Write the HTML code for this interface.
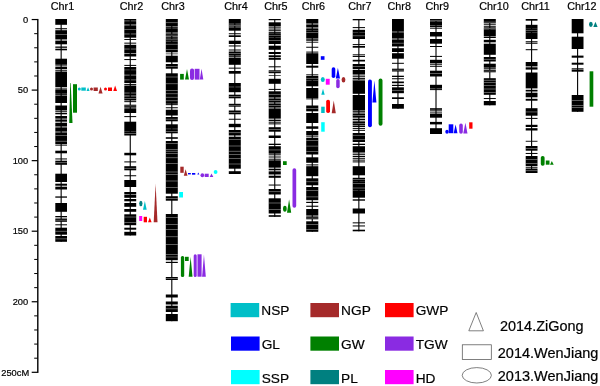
<!DOCTYPE html>
<html lang="en">
<head>
<meta charset="utf-8">
<title>QTL linkage map</title>
<style>
html,body{margin:0;padding:0;background:#fff;}
body{width:600px;height:386px;overflow:hidden;}
svg{display:block;}
text{font-family:"Liberation Sans",Arial,Helvetica,sans-serif;fill:#000;stroke:#000;stroke-width:0.2px;}
.t{font-size:10.8px;}
.a{font-size:9.3px;}
.l{font-size:13.7px;}
.r{font-size:14.3px;}
</style>
</head>
<body>
<svg width="600" height="386" viewBox="0 0 600 386">
<rect x="0" y="0" width="600" height="386" fill="#fff"/>
<g id="Chr1">
<text x="50.8" y="10.0" class="t">Chr1</text>
<rect x="60.60" y="19.00" width="1.10" height="222.80" fill="#000"/>
<rect x="55.30" y="19.00" width="11.70" height="5.80" fill="#000"/>
<rect x="55.30" y="28.20" width="11.70" height="1.10" fill="#000"/>
<rect x="55.30" y="30.20" width="11.70" height="8.80" fill="#000"/>
<rect x="55.30" y="34.30" width="11.70" height="0.60" fill="#fff" opacity="0.6"/>
<rect x="55.30" y="39.52" width="11.70" height="0.65" fill="#000"/>
<rect x="55.30" y="40.70" width="11.70" height="3.60" fill="#000"/>
<rect x="55.30" y="46.50" width="11.70" height="1.30" fill="#000"/>
<rect x="55.30" y="48.70" width="11.70" height="1.60" fill="#000"/>
<rect x="55.30" y="58.70" width="11.70" height="6.10" fill="#000"/>
<rect x="55.30" y="65.40" width="11.70" height="1.00" fill="#000"/>
<rect x="55.30" y="67.00" width="11.70" height="2.00" fill="#000"/>
<rect x="55.30" y="69.75" width="11.70" height="1.00" fill="#000"/>
<rect x="55.30" y="71.50" width="11.70" height="15.70" fill="#000"/>
<rect x="55.30" y="87.92" width="11.70" height="0.65" fill="#000"/>
<rect x="55.30" y="89.30" width="11.70" height="4.50" fill="#000"/>
<rect x="55.30" y="94.15" width="11.70" height="1.00" fill="#000"/>
<rect x="55.30" y="95.50" width="11.70" height="7.50" fill="#000"/>
<rect x="55.30" y="105.50" width="11.70" height="5.00" fill="#000"/>
<rect x="55.30" y="111.25" width="11.70" height="1.00" fill="#000"/>
<rect x="55.30" y="113.00" width="11.70" height="1.30" fill="#000"/>
<rect x="55.30" y="116.00" width="11.70" height="2.00" fill="#000"/>
<rect x="55.30" y="118.35" width="11.70" height="1.00" fill="#000"/>
<rect x="55.30" y="119.70" width="11.70" height="2.00" fill="#000"/>
<rect x="55.30" y="122.70" width="11.70" height="3.60" fill="#000"/>
<rect x="55.30" y="126.65" width="11.70" height="1.00" fill="#000"/>
<rect x="55.30" y="128.00" width="11.70" height="3.30" fill="#000"/>
<rect x="55.30" y="131.50" width="11.70" height="1.00" fill="#000"/>
<rect x="55.30" y="132.70" width="11.70" height="11.30" fill="#000"/>
<rect x="55.30" y="135.22" width="11.70" height="0.60" fill="#fff" opacity="0.6"/>
<rect x="55.30" y="140.88" width="11.70" height="0.60" fill="#fff" opacity="0.6"/>
<rect x="55.30" y="144.60" width="11.70" height="1.00" fill="#000"/>
<rect x="55.30" y="150.70" width="11.70" height="2.60" fill="#000"/>
<rect x="55.30" y="158.45" width="11.70" height="1.00" fill="#000"/>
<rect x="55.30" y="160.70" width="11.70" height="4.10" fill="#000"/>
<rect x="55.30" y="162.45" width="11.70" height="0.60" fill="#fff" opacity="0.6"/>
<rect x="55.30" y="173.70" width="11.70" height="8.30" fill="#000"/>
<rect x="55.30" y="183.70" width="11.70" height="2.00" fill="#000"/>
<rect x="55.30" y="186.70" width="11.70" height="2.80" fill="#000"/>
<rect x="55.30" y="196.40" width="11.70" height="1.30" fill="#000"/>
<rect x="55.30" y="203.00" width="11.70" height="8.80" fill="#000"/>
<rect x="55.30" y="216.00" width="11.70" height="1.30" fill="#000"/>
<rect x="55.30" y="218.50" width="11.70" height="3.30" fill="#000"/>
<rect x="55.30" y="219.85" width="11.70" height="0.60" fill="#fff" opacity="0.6"/>
<rect x="55.30" y="224.30" width="11.70" height="1.00" fill="#000"/>
<rect x="55.30" y="227.70" width="11.70" height="7.00" fill="#000"/>
<rect x="55.30" y="230.90" width="11.70" height="0.60" fill="#fff" opacity="0.6"/>
<rect x="55.30" y="236.00" width="11.70" height="5.80" fill="#000"/>
<rect x="55.30" y="238.60" width="11.70" height="0.60" fill="#fff" opacity="0.6"/>
</g>
<g id="Chr2">
<text x="119.8" y="10.0" class="t">Chr2</text>
<rect x="129.70" y="19.00" width="1.10" height="216.50" fill="#000"/>
<rect x="124.30" y="19.00" width="11.90" height="1.70" fill="#000"/>
<rect x="124.30" y="20.85" width="11.90" height="1.00" fill="#000"/>
<rect x="124.30" y="22.00" width="11.90" height="2.00" fill="#000"/>
<rect x="124.30" y="24.32" width="11.90" height="0.65" fill="#000"/>
<rect x="124.30" y="25.30" width="11.90" height="8.40" fill="#000"/>
<rect x="124.30" y="29.20" width="11.90" height="0.60" fill="#fff" opacity="0.6"/>
<rect x="124.30" y="33.75" width="11.90" height="1.00" fill="#000"/>
<rect x="124.30" y="34.80" width="11.90" height="2.90" fill="#000"/>
<rect x="124.30" y="38.95" width="11.90" height="1.00" fill="#000"/>
<rect x="124.30" y="42.65" width="11.90" height="1.00" fill="#000"/>
<rect x="124.30" y="44.80" width="11.90" height="3.40" fill="#000"/>
<rect x="124.30" y="48.25" width="11.90" height="1.00" fill="#000"/>
<rect x="124.30" y="49.30" width="11.90" height="3.90" fill="#000"/>
<rect x="124.30" y="53.70" width="11.90" height="2.80" fill="#000"/>
<rect x="124.30" y="59.05" width="11.90" height="1.00" fill="#000"/>
<rect x="124.30" y="64.90" width="11.90" height="1.00" fill="#000"/>
<rect x="124.30" y="67.00" width="11.90" height="2.80" fill="#000"/>
<rect x="124.30" y="69.90" width="11.90" height="1.00" fill="#000"/>
<rect x="124.30" y="71.00" width="11.90" height="3.80" fill="#000"/>
<rect x="124.30" y="75.30" width="11.90" height="4.40" fill="#000"/>
<rect x="124.30" y="79.85" width="11.90" height="1.00" fill="#000"/>
<rect x="124.30" y="81.00" width="11.90" height="2.00" fill="#000"/>
<rect x="124.30" y="83.90" width="11.90" height="1.00" fill="#000"/>
<rect x="124.30" y="85.50" width="11.90" height="6.70" fill="#000"/>
<rect x="124.30" y="92.25" width="11.90" height="1.00" fill="#000"/>
<rect x="124.30" y="93.30" width="11.90" height="2.20" fill="#000"/>
<rect x="124.30" y="95.60" width="11.90" height="1.00" fill="#000"/>
<rect x="124.30" y="96.70" width="11.90" height="3.80" fill="#000"/>
<rect x="124.30" y="98.30" width="11.90" height="0.60" fill="#fff" opacity="0.6"/>
<rect x="124.30" y="101.15" width="11.90" height="1.00" fill="#000"/>
<rect x="124.30" y="104.70" width="11.90" height="2.50" fill="#000"/>
<rect x="124.30" y="105.65" width="11.90" height="0.60" fill="#fff" opacity="0.6"/>
<rect x="124.30" y="107.42" width="11.90" height="0.65" fill="#000"/>
<rect x="124.30" y="108.30" width="11.90" height="4.70" fill="#000"/>
<rect x="124.30" y="116.10" width="11.90" height="1.00" fill="#000"/>
<rect x="124.30" y="121.70" width="11.90" height="9.60" fill="#000"/>
<rect x="124.30" y="131.30" width="11.90" height="4.20" fill="#000"/>
<rect x="124.30" y="133.10" width="11.90" height="0.60" fill="#fff" opacity="0.6"/>
<rect x="124.30" y="152.80" width="11.90" height="2.50" fill="#000"/>
<rect x="124.30" y="161.40" width="11.90" height="1.00" fill="#000"/>
<rect x="124.30" y="166.20" width="11.90" height="4.10" fill="#000"/>
<rect x="124.30" y="167.95" width="11.90" height="0.60" fill="#fff" opacity="0.6"/>
<rect x="124.30" y="175.25" width="11.90" height="1.00" fill="#000"/>
<rect x="124.30" y="180.00" width="11.90" height="7.00" fill="#000"/>
<rect x="124.30" y="192.00" width="11.90" height="2.00" fill="#000"/>
<rect x="124.30" y="194.50" width="11.90" height="3.30" fill="#000"/>
<rect x="124.30" y="199.00" width="11.90" height="2.30" fill="#000"/>
<rect x="124.30" y="203.00" width="11.90" height="3.80" fill="#000"/>
<rect x="124.30" y="209.00" width="11.90" height="2.80" fill="#000"/>
<rect x="124.30" y="214.30" width="11.90" height="10.90" fill="#000"/>
<rect x="124.30" y="216.72" width="11.90" height="0.60" fill="#fff" opacity="0.6"/>
<rect x="124.30" y="222.17" width="11.90" height="0.60" fill="#fff" opacity="0.6"/>
<rect x="124.30" y="227.70" width="11.90" height="2.00" fill="#000"/>
<rect x="124.30" y="231.80" width="11.90" height="3.70" fill="#000"/>
</g>
<g id="Chr3">
<text x="161.3" y="10.0" class="t">Chr3</text>
<rect x="171.25" y="19.00" width="1.10" height="302.20" fill="#000"/>
<rect x="165.80" y="19.00" width="12.00" height="7.50" fill="#000"/>
<rect x="165.80" y="22.45" width="12.00" height="0.60" fill="#fff" opacity="0.6"/>
<rect x="165.80" y="26.85" width="12.00" height="1.00" fill="#000"/>
<rect x="165.80" y="28.20" width="12.00" height="4.10" fill="#000"/>
<rect x="165.80" y="32.50" width="12.00" height="1.00" fill="#000"/>
<rect x="165.80" y="33.70" width="12.00" height="2.80" fill="#000"/>
<rect x="165.80" y="34.80" width="12.00" height="0.60" fill="#fff" opacity="0.6"/>
<rect x="165.80" y="36.85" width="12.00" height="1.00" fill="#000"/>
<rect x="165.80" y="38.20" width="12.00" height="3.30" fill="#000"/>
<rect x="165.80" y="39.55" width="12.00" height="0.60" fill="#fff" opacity="0.6"/>
<rect x="165.80" y="41.50" width="12.00" height="10.80" fill="#000"/>
<rect x="165.80" y="43.90" width="12.00" height="0.60" fill="#fff" opacity="0.6"/>
<rect x="165.80" y="49.30" width="12.00" height="0.60" fill="#fff" opacity="0.6"/>
<rect x="165.80" y="53.57" width="12.00" height="0.65" fill="#000"/>
<rect x="165.80" y="55.70" width="12.00" height="6.60" fill="#000"/>
<rect x="165.80" y="64.00" width="12.00" height="4.70" fill="#000"/>
<rect x="165.80" y="66.05" width="12.00" height="0.60" fill="#fff" opacity="0.6"/>
<rect x="165.80" y="73.30" width="12.00" height="30.50" fill="#000"/>
<rect x="165.80" y="76.70" width="12.00" height="0.60" fill="#fff" opacity="0.6"/>
<rect x="165.80" y="83.50" width="12.00" height="0.60" fill="#fff" opacity="0.6"/>
<rect x="165.80" y="90.20" width="12.00" height="0.60" fill="#fff" opacity="0.6"/>
<rect x="165.80" y="93.50" width="12.00" height="0.60" fill="#fff" opacity="0.6"/>
<rect x="165.80" y="96.90" width="12.00" height="0.60" fill="#fff" opacity="0.6"/>
<rect x="165.80" y="100.50" width="12.00" height="0.60" fill="#fff" opacity="0.6"/>
<rect x="165.80" y="104.15" width="12.00" height="1.00" fill="#000"/>
<rect x="165.80" y="107.25" width="12.00" height="1.00" fill="#000"/>
<rect x="165.80" y="109.70" width="12.00" height="5.80" fill="#000"/>
<rect x="165.80" y="117.00" width="12.00" height="4.30" fill="#000"/>
<rect x="165.80" y="118.85" width="12.00" height="0.60" fill="#fff" opacity="0.6"/>
<rect x="165.80" y="124.30" width="12.00" height="4.50" fill="#000"/>
<rect x="165.80" y="128.90" width="12.00" height="1.00" fill="#000"/>
<rect x="165.80" y="130.00" width="12.00" height="3.30" fill="#000"/>
<rect x="165.80" y="131.35" width="12.00" height="0.60" fill="#fff" opacity="0.6"/>
<rect x="165.80" y="137.20" width="12.00" height="1.60" fill="#000"/>
<rect x="165.80" y="141.00" width="12.00" height="1.00" fill="#000"/>
<rect x="165.80" y="142.00" width="12.00" height="51.70" fill="#000"/>
<rect x="165.80" y="143.40" width="12.00" height="0.60" fill="#fff" opacity="0.6"/>
<rect x="165.80" y="149.20" width="12.00" height="0.60" fill="#fff" opacity="0.6"/>
<rect x="165.80" y="150.90" width="12.00" height="0.60" fill="#fff" opacity="0.6"/>
<rect x="165.80" y="153.40" width="12.00" height="0.60" fill="#fff" opacity="0.6"/>
<rect x="165.80" y="157.50" width="12.00" height="0.60" fill="#fff" opacity="0.6"/>
<rect x="165.80" y="163.40" width="12.00" height="0.60" fill="#fff" opacity="0.6"/>
<rect x="165.80" y="171.70" width="12.00" height="0.60" fill="#fff" opacity="0.6"/>
<rect x="165.80" y="174.20" width="12.00" height="0.60" fill="#fff" opacity="0.6"/>
<rect x="165.80" y="180.70" width="12.00" height="0.60" fill="#fff" opacity="0.6"/>
<rect x="165.80" y="187.20" width="12.00" height="0.60" fill="#fff" opacity="0.6"/>
<rect x="165.80" y="196.20" width="12.00" height="4.50" fill="#000"/>
<rect x="165.80" y="198.15" width="12.00" height="0.60" fill="#fff" opacity="0.6"/>
<rect x="165.80" y="214.00" width="12.00" height="46.20" fill="#000"/>
<rect x="165.80" y="217.40" width="12.00" height="0.60" fill="#fff" opacity="0.6"/>
<rect x="165.80" y="224.00" width="12.00" height="0.60" fill="#fff" opacity="0.6"/>
<rect x="165.80" y="229.00" width="12.00" height="0.60" fill="#fff" opacity="0.6"/>
<rect x="165.80" y="236.50" width="12.00" height="0.60" fill="#fff" opacity="0.6"/>
<rect x="165.80" y="244.00" width="12.00" height="0.60" fill="#fff" opacity="0.6"/>
<rect x="165.80" y="254.00" width="12.00" height="0.60" fill="#fff" opacity="0.6"/>
<rect x="165.80" y="256.70" width="12.00" height="0.60" fill="#fff" opacity="0.6"/>
<rect x="165.80" y="261.80" width="12.00" height="1.20" fill="#000"/>
<rect x="165.80" y="277.00" width="12.00" height="3.00" fill="#000"/>
<rect x="165.80" y="278.20" width="12.00" height="0.60" fill="#fff" opacity="0.6"/>
<rect x="165.80" y="294.50" width="12.00" height="3.00" fill="#000"/>
<rect x="165.80" y="301.50" width="12.00" height="3.00" fill="#000"/>
<rect x="165.80" y="305.70" width="12.00" height="6.30" fill="#000"/>
<rect x="165.80" y="308.55" width="12.00" height="0.60" fill="#fff" opacity="0.6"/>
<rect x="165.80" y="314.00" width="12.00" height="7.20" fill="#000"/>
</g>
<g id="Chr4">
<text x="224.3" y="10.0" class="t">Chr4</text>
<rect x="234.25" y="19.00" width="1.10" height="155.00" fill="#000"/>
<rect x="228.80" y="19.00" width="12.00" height="4.20" fill="#000"/>
<rect x="228.80" y="23.25" width="12.00" height="1.00" fill="#000"/>
<rect x="228.80" y="24.30" width="12.00" height="2.20" fill="#000"/>
<rect x="228.80" y="25.10" width="12.00" height="0.60" fill="#fff" opacity="0.6"/>
<rect x="228.80" y="26.60" width="12.00" height="1.00" fill="#000"/>
<rect x="228.80" y="27.70" width="12.00" height="3.00" fill="#000"/>
<rect x="228.80" y="33.25" width="12.00" height="1.00" fill="#000"/>
<rect x="228.80" y="35.30" width="12.00" height="1.70" fill="#000"/>
<rect x="228.80" y="40.70" width="12.00" height="3.30" fill="#000"/>
<rect x="228.80" y="45.45" width="12.00" height="1.00" fill="#000"/>
<rect x="228.80" y="49.50" width="12.00" height="1.00" fill="#000"/>
<rect x="228.80" y="51.50" width="12.00" height="4.20" fill="#000"/>
<rect x="228.80" y="53.30" width="12.00" height="0.60" fill="#fff" opacity="0.6"/>
<rect x="228.80" y="56.20" width="12.00" height="1.00" fill="#000"/>
<rect x="228.80" y="57.70" width="12.00" height="7.10" fill="#000"/>
<rect x="228.80" y="67.65" width="12.00" height="1.00" fill="#000"/>
<rect x="228.80" y="71.00" width="12.00" height="2.70" fill="#000"/>
<rect x="228.80" y="83.00" width="12.00" height="3.30" fill="#000"/>
<rect x="228.80" y="86.25" width="12.00" height="1.00" fill="#000"/>
<rect x="228.80" y="87.20" width="12.00" height="5.00" fill="#000"/>
<rect x="228.80" y="94.70" width="12.00" height="3.60" fill="#000"/>
<rect x="228.80" y="96.20" width="12.00" height="0.60" fill="#fff" opacity="0.6"/>
<rect x="228.80" y="103.80" width="12.00" height="2.90" fill="#000"/>
<rect x="228.80" y="104.95" width="12.00" height="0.60" fill="#fff" opacity="0.6"/>
<rect x="228.80" y="110.50" width="12.00" height="3.80" fill="#000"/>
<rect x="228.80" y="112.10" width="12.00" height="0.60" fill="#fff" opacity="0.6"/>
<rect x="228.80" y="118.75" width="12.00" height="1.00" fill="#000"/>
<rect x="228.80" y="123.80" width="12.00" height="3.40" fill="#000"/>
<rect x="228.80" y="130.00" width="12.00" height="5.50" fill="#000"/>
<rect x="228.80" y="132.45" width="12.00" height="0.60" fill="#fff" opacity="0.6"/>
<rect x="228.80" y="136.70" width="12.00" height="5.30" fill="#000"/>
<rect x="228.80" y="139.05" width="12.00" height="0.60" fill="#fff" opacity="0.6"/>
<rect x="228.80" y="142.00" width="12.00" height="26.70" fill="#000"/>
<rect x="228.80" y="145.70" width="12.00" height="0.60" fill="#fff" opacity="0.6"/>
<rect x="228.80" y="150.90" width="12.00" height="0.60" fill="#fff" opacity="0.6"/>
<rect x="228.80" y="154.20" width="12.00" height="0.60" fill="#fff" opacity="0.6"/>
<rect x="228.80" y="158.40" width="12.00" height="0.60" fill="#fff" opacity="0.6"/>
<rect x="228.80" y="163.70" width="12.00" height="0.60" fill="#fff" opacity="0.6"/>
<rect x="228.80" y="171.20" width="12.00" height="2.80" fill="#000"/>
</g>
<g id="Chr5">
<text x="264.2" y="10.0" class="t">Chr5</text>
<rect x="274.20" y="19.00" width="1.10" height="197.80" fill="#000"/>
<rect x="268.70" y="19.00" width="12.10" height="1.20" fill="#000"/>
<rect x="268.70" y="22.30" width="12.10" height="4.20" fill="#000"/>
<rect x="268.70" y="27.03" width="12.10" height="0.65" fill="#000"/>
<rect x="268.70" y="28.53" width="12.10" height="1.00" fill="#000"/>
<rect x="268.70" y="30.20" width="12.10" height="1.00" fill="#000"/>
<rect x="268.70" y="31.87" width="12.10" height="1.00" fill="#000"/>
<rect x="268.70" y="33.20" width="12.10" height="4.10" fill="#000"/>
<rect x="268.70" y="34.95" width="12.10" height="0.60" fill="#fff" opacity="0.6"/>
<rect x="268.70" y="37.30" width="12.10" height="6.70" fill="#000"/>
<rect x="268.70" y="40.35" width="12.10" height="0.60" fill="#fff" opacity="0.6"/>
<rect x="268.70" y="45.70" width="12.10" height="4.10" fill="#000"/>
<rect x="268.70" y="52.00" width="12.10" height="2.00" fill="#000"/>
<rect x="268.70" y="55.30" width="12.10" height="1.70" fill="#000"/>
<rect x="268.70" y="57.70" width="12.10" height="2.10" fill="#000"/>
<rect x="268.70" y="66.30" width="12.10" height="1.00" fill="#000"/>
<rect x="268.70" y="70.30" width="12.10" height="2.90" fill="#000"/>
<rect x="268.70" y="71.45" width="12.10" height="0.60" fill="#fff" opacity="0.6"/>
<rect x="268.70" y="75.02" width="12.10" height="0.65" fill="#000"/>
<rect x="268.70" y="78.80" width="12.10" height="5.00" fill="#000"/>
<rect x="268.70" y="88.90" width="12.10" height="1.00" fill="#000"/>
<rect x="268.70" y="91.30" width="12.10" height="5.90" fill="#000"/>
<rect x="268.70" y="93.95" width="12.10" height="0.60" fill="#fff" opacity="0.6"/>
<rect x="268.70" y="97.50" width="12.10" height="1.00" fill="#000"/>
<rect x="268.70" y="98.80" width="12.10" height="3.40" fill="#000"/>
<rect x="268.70" y="100.20" width="12.10" height="0.60" fill="#fff" opacity="0.6"/>
<rect x="268.70" y="102.50" width="12.10" height="1.00" fill="#000"/>
<rect x="268.70" y="103.80" width="12.10" height="3.40" fill="#000"/>
<rect x="268.70" y="105.20" width="12.10" height="0.60" fill="#fff" opacity="0.6"/>
<rect x="268.70" y="107.50" width="12.10" height="1.00" fill="#000"/>
<rect x="268.70" y="108.80" width="12.10" height="9.20" fill="#000"/>
<rect x="268.70" y="118.34" width="12.10" height="1.00" fill="#000"/>
<rect x="268.70" y="120.01" width="12.10" height="1.00" fill="#000"/>
<rect x="268.70" y="121.69" width="12.10" height="1.00" fill="#000"/>
<rect x="268.70" y="123.36" width="12.10" height="1.00" fill="#000"/>
<rect x="268.70" y="127.20" width="12.10" height="4.50" fill="#000"/>
<rect x="268.70" y="129.15" width="12.10" height="0.60" fill="#fff" opacity="0.6"/>
<rect x="268.70" y="135.50" width="12.10" height="2.50" fill="#000"/>
<rect x="268.70" y="143.70" width="12.10" height="1.30" fill="#000"/>
<rect x="268.70" y="146.20" width="12.10" height="7.50" fill="#000"/>
<rect x="268.70" y="149.65" width="12.10" height="0.60" fill="#fff" opacity="0.6"/>
<rect x="268.70" y="154.30" width="12.10" height="1.00" fill="#000"/>
<rect x="268.70" y="156.50" width="12.10" height="1.00" fill="#000"/>
<rect x="268.70" y="158.70" width="12.10" height="1.00" fill="#000"/>
<rect x="268.70" y="160.30" width="12.10" height="6.70" fill="#000"/>
<rect x="268.70" y="167.33" width="12.10" height="1.00" fill="#000"/>
<rect x="268.70" y="169.00" width="12.10" height="1.00" fill="#000"/>
<rect x="268.70" y="170.67" width="12.10" height="1.00" fill="#000"/>
<rect x="268.70" y="172.00" width="12.10" height="2.50" fill="#000"/>
<rect x="268.70" y="175.70" width="12.10" height="2.10" fill="#000"/>
<rect x="268.70" y="184.55" width="12.10" height="1.00" fill="#000"/>
<rect x="268.70" y="189.00" width="12.10" height="5.50" fill="#000"/>
<rect x="268.70" y="191.45" width="12.10" height="0.60" fill="#fff" opacity="0.6"/>
<rect x="268.70" y="198.30" width="12.10" height="15.20" fill="#000"/>
<rect x="268.70" y="202.70" width="12.10" height="0.60" fill="#fff" opacity="0.6"/>
<rect x="268.70" y="209.00" width="12.10" height="0.60" fill="#fff" opacity="0.6"/>
<rect x="268.70" y="215.20" width="12.10" height="1.60" fill="#000"/>
</g>
<g id="Chr6">
<text x="301.7" y="10.0" class="t">Chr6</text>
<rect x="311.70" y="19.00" width="1.10" height="212.80" fill="#000"/>
<rect x="306.20" y="19.00" width="12.10" height="4.20" fill="#000"/>
<rect x="306.20" y="23.50" width="12.10" height="1.00" fill="#000"/>
<rect x="306.20" y="24.80" width="12.10" height="2.50" fill="#000"/>
<rect x="306.20" y="27.65" width="12.10" height="1.00" fill="#000"/>
<rect x="306.20" y="29.00" width="12.10" height="1.70" fill="#000"/>
<rect x="306.20" y="30.70" width="12.10" height="3.30" fill="#000"/>
<rect x="306.20" y="32.05" width="12.10" height="0.60" fill="#fff" opacity="0.6"/>
<rect x="306.20" y="34.00" width="12.10" height="4.50" fill="#000"/>
<rect x="306.20" y="38.75" width="12.10" height="1.00" fill="#000"/>
<rect x="306.20" y="40.25" width="12.10" height="1.00" fill="#000"/>
<rect x="306.20" y="42.02" width="12.10" height="0.65" fill="#000"/>
<rect x="306.20" y="46.75" width="12.10" height="1.00" fill="#000"/>
<rect x="306.20" y="51.60" width="12.10" height="1.00" fill="#000"/>
<rect x="306.20" y="53.20" width="12.10" height="10.80" fill="#000"/>
<rect x="306.20" y="65.70" width="12.10" height="2.00" fill="#000"/>
<rect x="306.20" y="74.35" width="12.10" height="1.00" fill="#000"/>
<rect x="306.20" y="76.00" width="12.10" height="4.50" fill="#000"/>
<rect x="306.20" y="77.95" width="12.10" height="0.60" fill="#fff" opacity="0.6"/>
<rect x="306.20" y="80.50" width="12.10" height="5.80" fill="#000"/>
<rect x="306.20" y="88.00" width="12.10" height="10.00" fill="#000"/>
<rect x="306.20" y="98.35" width="12.10" height="1.00" fill="#000"/>
<rect x="306.20" y="105.50" width="12.10" height="5.80" fill="#000"/>
<rect x="306.20" y="108.10" width="12.10" height="0.60" fill="#fff" opacity="0.6"/>
<rect x="306.20" y="113.00" width="12.10" height="10.00" fill="#000"/>
<rect x="306.20" y="126.30" width="12.10" height="2.50" fill="#000"/>
<rect x="306.20" y="131.00" width="12.10" height="4.50" fill="#000"/>
<rect x="306.20" y="136.28" width="12.10" height="0.65" fill="#000"/>
<rect x="306.20" y="137.70" width="12.10" height="16.80" fill="#000"/>
<rect x="306.20" y="140.20" width="12.10" height="0.60" fill="#fff" opacity="0.6"/>
<rect x="306.20" y="145.80" width="12.10" height="0.60" fill="#fff" opacity="0.6"/>
<rect x="306.20" y="151.40" width="12.10" height="0.60" fill="#fff" opacity="0.6"/>
<rect x="306.20" y="157.30" width="12.10" height="5.50" fill="#000"/>
<rect x="306.20" y="164.40" width="12.10" height="1.00" fill="#000"/>
<rect x="306.20" y="166.20" width="12.10" height="10.00" fill="#000"/>
<rect x="306.20" y="178.30" width="12.10" height="7.00" fill="#000"/>
<rect x="306.20" y="181.50" width="12.10" height="0.60" fill="#fff" opacity="0.6"/>
<rect x="306.20" y="187.00" width="12.10" height="13.20" fill="#000"/>
<rect x="306.20" y="190.00" width="12.10" height="0.60" fill="#fff" opacity="0.6"/>
<rect x="306.20" y="196.60" width="12.10" height="0.60" fill="#fff" opacity="0.6"/>
<rect x="306.20" y="201.80" width="12.10" height="1.20" fill="#000"/>
<rect x="306.20" y="205.70" width="12.10" height="1.10" fill="#000"/>
<rect x="306.20" y="209.00" width="12.10" height="6.20" fill="#000"/>
<rect x="306.20" y="215.50" width="12.10" height="1.00" fill="#000"/>
<rect x="306.20" y="216.80" width="12.10" height="2.50" fill="#000"/>
<rect x="306.20" y="217.75" width="12.10" height="0.60" fill="#fff" opacity="0.6"/>
<rect x="306.20" y="221.30" width="12.10" height="10.50" fill="#000"/>
<rect x="306.20" y="224.20" width="12.10" height="0.60" fill="#fff" opacity="0.6"/>
<rect x="306.20" y="229.00" width="12.10" height="0.60" fill="#fff" opacity="0.6"/>
</g>
<g id="Chr7">
<text x="348.2" y="10.0" class="t">Chr7</text>
<rect x="358.30" y="19.00" width="1.10" height="212.30" fill="#000"/>
<rect x="352.70" y="19.00" width="12.30" height="1.30" fill="#000"/>
<rect x="352.70" y="27.10" width="12.30" height="1.00" fill="#000"/>
<rect x="352.70" y="29.80" width="12.30" height="2.90" fill="#000"/>
<rect x="352.70" y="32.70" width="12.30" height="6.30" fill="#000"/>
<rect x="352.70" y="35.55" width="12.30" height="0.60" fill="#fff" opacity="0.6"/>
<rect x="352.70" y="44.10" width="12.30" height="1.00" fill="#000"/>
<rect x="352.70" y="46.00" width="12.30" height="1.70" fill="#000"/>
<rect x="352.70" y="54.33" width="12.30" height="1.00" fill="#000"/>
<rect x="352.70" y="55.97" width="12.30" height="1.00" fill="#000"/>
<rect x="352.70" y="59.80" width="12.30" height="1.70" fill="#000"/>
<rect x="352.70" y="64.00" width="12.30" height="5.00" fill="#000"/>
<rect x="352.70" y="66.20" width="12.30" height="0.60" fill="#fff" opacity="0.6"/>
<rect x="352.70" y="69.80" width="12.30" height="4.20" fill="#000"/>
<rect x="352.70" y="74.42" width="12.30" height="1.00" fill="#000"/>
<rect x="352.70" y="76.25" width="12.30" height="1.00" fill="#000"/>
<rect x="352.70" y="78.08" width="12.30" height="1.00" fill="#000"/>
<rect x="352.70" y="79.50" width="12.30" height="1.50" fill="#000"/>
<rect x="352.70" y="79.95" width="12.30" height="0.60" fill="#fff" opacity="0.6"/>
<rect x="352.70" y="81.00" width="12.30" height="12.80" fill="#000"/>
<rect x="352.70" y="95.00" width="12.30" height="15.50" fill="#000"/>
<rect x="352.70" y="110.83" width="12.30" height="1.00" fill="#000"/>
<rect x="352.70" y="112.47" width="12.30" height="1.00" fill="#000"/>
<rect x="352.70" y="113.80" width="12.30" height="3.20" fill="#000"/>
<rect x="352.70" y="115.10" width="12.30" height="0.60" fill="#fff" opacity="0.6"/>
<rect x="352.70" y="117.33" width="12.30" height="1.00" fill="#000"/>
<rect x="352.70" y="119.00" width="12.30" height="1.00" fill="#000"/>
<rect x="352.70" y="120.67" width="12.30" height="1.00" fill="#000"/>
<rect x="352.70" y="122.00" width="12.30" height="3.50" fill="#000"/>
<rect x="352.70" y="123.45" width="12.30" height="0.60" fill="#fff" opacity="0.6"/>
<rect x="352.70" y="125.97" width="12.30" height="1.00" fill="#000"/>
<rect x="352.70" y="127.90" width="12.30" height="1.00" fill="#000"/>
<rect x="352.70" y="129.83" width="12.30" height="1.00" fill="#000"/>
<rect x="352.70" y="133.00" width="12.30" height="9.00" fill="#000"/>
<rect x="352.70" y="134.95" width="12.30" height="0.60" fill="#fff" opacity="0.6"/>
<rect x="352.70" y="139.45" width="12.30" height="0.60" fill="#fff" opacity="0.6"/>
<rect x="352.70" y="143.70" width="12.30" height="1.30" fill="#000"/>
<rect x="352.70" y="146.20" width="12.30" height="5.80" fill="#000"/>
<rect x="352.70" y="152.40" width="12.30" height="1.00" fill="#000"/>
<rect x="352.70" y="154.20" width="12.30" height="1.00" fill="#000"/>
<rect x="352.70" y="156.00" width="12.30" height="1.00" fill="#000"/>
<rect x="352.70" y="157.80" width="12.30" height="1.00" fill="#000"/>
<rect x="352.70" y="159.60" width="12.30" height="1.00" fill="#000"/>
<rect x="352.70" y="161.40" width="12.30" height="1.00" fill="#000"/>
<rect x="352.70" y="166.20" width="12.30" height="9.10" fill="#000"/>
<rect x="352.70" y="177.80" width="12.30" height="3.40" fill="#000"/>
<rect x="352.70" y="179.20" width="12.30" height="0.60" fill="#fff" opacity="0.6"/>
<rect x="352.70" y="181.20" width="12.30" height="9.10" fill="#000"/>
<rect x="352.70" y="183.17" width="12.30" height="0.60" fill="#fff" opacity="0.6"/>
<rect x="352.70" y="187.72" width="12.30" height="0.60" fill="#fff" opacity="0.6"/>
<rect x="352.70" y="190.30" width="12.30" height="7.40" fill="#000"/>
<rect x="352.70" y="199.30" width="12.30" height="1.40" fill="#000"/>
<rect x="352.70" y="208.50" width="12.30" height="5.00" fill="#000"/>
<rect x="352.70" y="222.35" width="12.30" height="1.00" fill="#000"/>
<rect x="352.70" y="225.45" width="12.30" height="1.00" fill="#000"/>
<rect x="352.70" y="229.70" width="12.30" height="1.60" fill="#000"/>
</g>
<g id="Chr8">
<text x="387.5" y="10.0" class="t">Chr8</text>
<rect x="397.40" y="19.00" width="1.10" height="89.70" fill="#000"/>
<rect x="392.00" y="19.00" width="11.90" height="12.50" fill="#000"/>
<rect x="392.00" y="31.60" width="11.90" height="1.00" fill="#000"/>
<rect x="392.00" y="32.70" width="11.90" height="5.50" fill="#000"/>
<rect x="392.00" y="38.50" width="11.90" height="1.00" fill="#000"/>
<rect x="392.00" y="39.80" width="11.90" height="6.70" fill="#000"/>
<rect x="392.00" y="42.85" width="11.90" height="0.60" fill="#fff" opacity="0.6"/>
<rect x="392.00" y="48.20" width="11.90" height="3.80" fill="#000"/>
<rect x="392.00" y="53.20" width="11.90" height="5.50" fill="#000"/>
<rect x="392.00" y="62.80" width="11.90" height="1.00" fill="#000"/>
<rect x="392.00" y="68.70" width="11.90" height="2.80" fill="#000"/>
<rect x="392.00" y="69.80" width="11.90" height="0.60" fill="#fff" opacity="0.6"/>
<rect x="392.00" y="75.70" width="11.90" height="1.30" fill="#000"/>
<rect x="392.00" y="78.25" width="11.90" height="1.00" fill="#000"/>
<rect x="392.00" y="81.50" width="11.90" height="1.70" fill="#000"/>
<rect x="392.00" y="84.80" width="11.90" height="1.20" fill="#000"/>
<rect x="392.00" y="87.30" width="11.90" height="5.90" fill="#000"/>
<rect x="392.00" y="89.95" width="11.90" height="0.60" fill="#fff" opacity="0.6"/>
<rect x="392.00" y="97.30" width="11.90" height="1.70" fill="#000"/>
<rect x="392.00" y="104.00" width="11.90" height="4.70" fill="#000"/>
</g>
<g id="Chr9">
<text x="425.5" y="10.0" class="t">Chr9</text>
<rect x="435.45" y="19.00" width="1.10" height="115.00" fill="#000"/>
<rect x="430.00" y="19.00" width="12.00" height="2.50" fill="#000"/>
<rect x="430.00" y="19.95" width="12.00" height="0.60" fill="#fff" opacity="0.6"/>
<rect x="430.00" y="21.50" width="12.00" height="4.20" fill="#000"/>
<rect x="430.00" y="26.02" width="12.00" height="1.00" fill="#000"/>
<rect x="430.00" y="27.68" width="12.00" height="1.00" fill="#000"/>
<rect x="430.00" y="32.00" width="12.00" height="4.50" fill="#000"/>
<rect x="430.00" y="39.00" width="12.00" height="4.70" fill="#000"/>
<rect x="430.00" y="46.00" width="12.00" height="1.00" fill="#000"/>
<rect x="430.00" y="55.90" width="12.00" height="1.00" fill="#000"/>
<rect x="430.00" y="59.80" width="12.00" height="3.40" fill="#000"/>
<rect x="430.00" y="63.72" width="12.00" height="1.00" fill="#000"/>
<rect x="430.00" y="65.78" width="12.00" height="1.00" fill="#000"/>
<rect x="430.00" y="70.70" width="12.00" height="5.80" fill="#000"/>
<rect x="430.00" y="73.30" width="12.00" height="0.60" fill="#fff" opacity="0.6"/>
<rect x="430.00" y="84.80" width="12.00" height="3.90" fill="#000"/>
<rect x="430.00" y="89.10" width="12.00" height="1.00" fill="#000"/>
<rect x="430.00" y="108.20" width="12.00" height="1.60" fill="#000"/>
<rect x="430.00" y="110.35" width="12.00" height="1.00" fill="#000"/>
<rect x="430.00" y="112.45" width="12.00" height="1.00" fill="#000"/>
<rect x="430.00" y="114.00" width="12.00" height="3.70" fill="#000"/>
<rect x="430.00" y="121.90" width="12.00" height="2.50" fill="#000"/>
<rect x="430.00" y="128.20" width="12.00" height="5.80" fill="#000"/>
</g>
<g id="Chr10">
<text x="479.3" y="10.0" class="t">Chr10</text>
<rect x="489.25" y="19.00" width="1.10" height="86.30" fill="#000"/>
<rect x="483.80" y="19.00" width="12.00" height="2.00" fill="#000"/>
<rect x="483.80" y="21.00" width="12.00" height="2.20" fill="#000"/>
<rect x="483.80" y="21.80" width="12.00" height="0.60" fill="#fff" opacity="0.6"/>
<rect x="483.80" y="23.73" width="12.00" height="1.00" fill="#000"/>
<rect x="483.80" y="25.77" width="12.00" height="1.00" fill="#000"/>
<rect x="483.80" y="27.30" width="12.00" height="2.00" fill="#000"/>
<rect x="483.80" y="28.00" width="12.00" height="0.60" fill="#fff" opacity="0.6"/>
<rect x="483.80" y="29.30" width="12.00" height="7.20" fill="#000"/>
<rect x="483.80" y="37.00" width="12.00" height="1.00" fill="#000"/>
<rect x="483.80" y="39.80" width="12.00" height="2.20" fill="#000"/>
<rect x="483.80" y="42.67" width="12.00" height="0.65" fill="#000"/>
<rect x="483.80" y="44.00" width="12.00" height="10.80" fill="#000"/>
<rect x="483.80" y="57.00" width="12.00" height="4.50" fill="#000"/>
<rect x="483.80" y="58.95" width="12.00" height="0.60" fill="#fff" opacity="0.6"/>
<rect x="483.80" y="63.70" width="12.00" height="4.00" fill="#000"/>
<rect x="483.80" y="68.25" width="12.00" height="1.00" fill="#000"/>
<rect x="483.80" y="69.80" width="12.00" height="2.50" fill="#000"/>
<rect x="483.80" y="70.75" width="12.00" height="0.60" fill="#fff" opacity="0.6"/>
<rect x="483.80" y="78.20" width="12.00" height="16.60" fill="#000"/>
<rect x="483.80" y="79.90" width="12.00" height="0.60" fill="#fff" opacity="0.6"/>
<rect x="483.80" y="82.00" width="12.00" height="0.60" fill="#fff" opacity="0.6"/>
<rect x="483.80" y="85.40" width="12.00" height="0.60" fill="#fff" opacity="0.6"/>
<rect x="483.80" y="88.70" width="12.00" height="0.60" fill="#fff" opacity="0.6"/>
<rect x="483.80" y="92.00" width="12.00" height="0.60" fill="#fff" opacity="0.6"/>
<rect x="483.80" y="98.05" width="12.00" height="1.00" fill="#000"/>
<rect x="483.80" y="101.00" width="12.00" height="4.30" fill="#000"/>
</g>
<g id="Chr11">
<text x="521.2" y="10.0" class="t">Chr11</text>
<rect x="531.05" y="19.00" width="1.10" height="154.00" fill="#000"/>
<rect x="525.70" y="19.00" width="11.80" height="1.70" fill="#000"/>
<rect x="525.70" y="24.80" width="11.80" height="3.40" fill="#000"/>
<rect x="525.70" y="28.20" width="11.80" height="4.10" fill="#000"/>
<rect x="525.70" y="29.95" width="11.80" height="0.60" fill="#fff" opacity="0.6"/>
<rect x="525.70" y="32.30" width="11.80" height="6.70" fill="#000"/>
<rect x="525.70" y="41.25" width="11.80" height="1.00" fill="#000"/>
<rect x="525.70" y="42.75" width="11.80" height="1.00" fill="#000"/>
<rect x="525.70" y="49.20" width="11.80" height="1.00" fill="#000"/>
<rect x="525.70" y="62.00" width="11.80" height="2.00" fill="#000"/>
<rect x="525.70" y="64.00" width="11.80" height="1.00" fill="#000"/>
<rect x="525.70" y="65.00" width="11.80" height="1.40" fill="#000"/>
<rect x="525.70" y="67.30" width="11.80" height="2.30" fill="#000"/>
<rect x="525.70" y="72.50" width="11.80" height="15.90" fill="#000"/>
<rect x="525.70" y="89.80" width="11.80" height="1.70" fill="#000"/>
<rect x="525.70" y="92.70" width="11.80" height="4.60" fill="#000"/>
<rect x="525.70" y="98.80" width="11.80" height="1.90" fill="#000"/>
<rect x="525.70" y="108.20" width="11.80" height="7.50" fill="#000"/>
<rect x="525.70" y="111.65" width="11.80" height="0.60" fill="#fff" opacity="0.6"/>
<rect x="525.70" y="117.90" width="11.80" height="1.00" fill="#000"/>
<rect x="525.70" y="124.80" width="11.80" height="2.20" fill="#000"/>
<rect x="525.70" y="128.20" width="11.80" height="2.30" fill="#000"/>
<rect x="525.70" y="140.80" width="11.80" height="0.90" fill="#000"/>
<rect x="525.70" y="146.00" width="11.80" height="4.70" fill="#000"/>
<rect x="525.70" y="148.05" width="11.80" height="0.60" fill="#fff" opacity="0.6"/>
<rect x="525.70" y="152.95" width="11.80" height="1.00" fill="#000"/>
<rect x="525.70" y="156.00" width="11.80" height="10.00" fill="#000"/>
<rect x="525.70" y="159.00" width="11.80" height="0.60" fill="#fff" opacity="0.6"/>
<rect x="525.70" y="163.20" width="11.80" height="0.60" fill="#fff" opacity="0.6"/>
<rect x="525.70" y="166.75" width="11.80" height="1.00" fill="#000"/>
<rect x="525.70" y="168.50" width="11.80" height="4.50" fill="#000"/>
<rect x="525.70" y="170.45" width="11.80" height="0.60" fill="#fff" opacity="0.6"/>
</g>
<g id="Chr12">
<text x="567.2" y="10.0" class="t">Chr12</text>
<rect x="577.05" y="19.00" width="1.10" height="92.80" fill="#000"/>
<rect x="571.70" y="19.00" width="11.80" height="14.30" fill="#000"/>
<rect x="571.70" y="36.70" width="11.80" height="12.30" fill="#000"/>
<rect x="571.70" y="55.60" width="11.80" height="2.10" fill="#000"/>
<rect x="571.70" y="62.70" width="11.80" height="2.00" fill="#000"/>
<rect x="571.70" y="68.30" width="11.80" height="1.00" fill="#000"/>
<rect x="571.70" y="69.60" width="11.80" height="2.10" fill="#000"/>
<rect x="571.70" y="95.00" width="11.80" height="16.80" fill="#000"/>
<rect x="571.70" y="100.10" width="11.80" height="0.60" fill="#fff" opacity="0.6"/>
<rect x="571.70" y="105.10" width="11.80" height="0.60" fill="#fff" opacity="0.6"/>
<rect x="571.70" y="107.30" width="11.80" height="0.60" fill="#fff" opacity="0.6"/>
</g>
<g id="axis">
<rect x="37.10" y="18.95" width="1.40" height="353.95" fill="#000"/>
<rect x="31.70" y="18.95" width="6.00" height="1.20" fill="#000"/>
<text x="28.2" y="22.8" class="a" text-anchor="end">0</text>
<rect x="34.20" y="33.16" width="3.50" height="1.00" fill="#000"/>
<rect x="34.20" y="47.27" width="3.50" height="1.00" fill="#000"/>
<rect x="34.20" y="61.38" width="3.50" height="1.00" fill="#000"/>
<rect x="34.20" y="75.49" width="3.50" height="1.00" fill="#000"/>
<rect x="31.70" y="89.50" width="6.00" height="1.20" fill="#000"/>
<text x="28.2" y="93.3" class="a" text-anchor="end">50</text>
<rect x="34.20" y="103.71" width="3.50" height="1.00" fill="#000"/>
<rect x="34.20" y="117.82" width="3.50" height="1.00" fill="#000"/>
<rect x="34.20" y="131.93" width="3.50" height="1.00" fill="#000"/>
<rect x="34.20" y="146.04" width="3.50" height="1.00" fill="#000"/>
<rect x="31.70" y="160.05" width="6.00" height="1.20" fill="#000"/>
<text x="28.2" y="163.8" class="a" text-anchor="end">100</text>
<rect x="34.20" y="174.26" width="3.50" height="1.00" fill="#000"/>
<rect x="34.20" y="188.37" width="3.50" height="1.00" fill="#000"/>
<rect x="34.20" y="202.48" width="3.50" height="1.00" fill="#000"/>
<rect x="34.20" y="216.59" width="3.50" height="1.00" fill="#000"/>
<rect x="31.70" y="230.60" width="6.00" height="1.20" fill="#000"/>
<text x="28.2" y="234.4" class="a" text-anchor="end">150</text>
<rect x="34.20" y="244.81" width="3.50" height="1.00" fill="#000"/>
<rect x="34.20" y="258.92" width="3.50" height="1.00" fill="#000"/>
<rect x="34.20" y="273.03" width="3.50" height="1.00" fill="#000"/>
<rect x="34.20" y="287.14" width="3.50" height="1.00" fill="#000"/>
<rect x="31.70" y="301.15" width="6.00" height="1.20" fill="#000"/>
<text x="28.2" y="304.9" class="a" text-anchor="end">200</text>
<rect x="34.20" y="315.36" width="3.50" height="1.00" fill="#000"/>
<rect x="34.20" y="329.47" width="3.50" height="1.00" fill="#000"/>
<rect x="34.20" y="343.58" width="3.50" height="1.00" fill="#000"/>
<rect x="34.20" y="357.69" width="3.50" height="1.00" fill="#000"/>
<rect x="31.70" y="371.70" width="6.00" height="1.20" fill="#000"/>
<text x="29.2" y="375.5" class="a" text-anchor="end">250cM</text>
</g>
<g id="qtl">
<polygon points="70.2,83 70.7,83 72.5,123 69.2,123" fill="#008000"/>
<rect x="73.00" y="84.20" width="4.00" height="28.50" fill="#008000"/>
<ellipse cx="79.30" cy="89.00" rx="1.50" ry="1.50" fill="#00bfc8"/>
<rect x="81.30" y="87.50" width="4.50" height="3.20" fill="#00bfc8"/>
<polygon points="88.05,87.30 89.60,91.00 86.50,91.00" fill="#00bfc8"/>
<ellipse cx="91.50" cy="89.00" rx="1.50" ry="1.50" fill="#a52a2a"/>
<rect x="93.60" y="87.50" width="4.20" height="3.50" fill="#a52a2a"/>
<polygon points="100.55,86.80 102.60,93.50 98.50,93.50" fill="#a52a2a"/>
<ellipse cx="105.50" cy="89.00" rx="1.50" ry="1.50" fill="#ff0000"/>
<rect x="108.00" y="87.50" width="4.00" height="3.50" fill="#ff0000"/>
<polygon points="115.15,85.50 117.00,91.00 113.30,91.00" fill="#ff0000"/>
<ellipse cx="140.85" cy="203.50" rx="1.65" ry="2.80" fill="#008080"/>
<polygon points="144.85,201.00 146.70,209.70 143.00,209.70" fill="#00bfc8"/>
<rect x="139.20" y="216.00" width="3.00" height="5.00" fill="#ff00ff"/>
<rect x="143.70" y="216.80" width="3.30" height="5.50" fill="#ff0000"/>
<polygon points="149.80,217.50 151.60,222.30 148.00,222.30" fill="#ff0000"/>
<polygon points="155.60,183.70 157.50,222.20 153.70,222.20" fill="#a52a2a"/>
<rect x="180.10" y="73.90" width="3.70" height="5.70" fill="#008000"/>
<polygon points="187.00,69.00 189.00,79.60 185.00,79.60" fill="#008000"/>
<rect x="190.00" y="68.40" width="4.10" height="11.50" fill="#8a2be2" rx="2.0"/>
<rect x="194.70" y="68.80" width="4.80" height="10.80" fill="#8a2be2"/>
<polygon points="201.55,68.80 203.30,79.60 199.80,79.60" fill="#8a2be2"/>
<rect x="180.30" y="166.70" width="3.40" height="6.10" fill="#a52a2a"/>
<polygon points="185.65,169.30 187.50,175.80 183.80,175.80" fill="#a52a2a"/>
<rect x="188.00" y="173.00" width="2.80" height="1.40" fill="#0000ff"/>
<rect x="192.00" y="173.00" width="3.30" height="1.70" fill="#0000ff"/>
<polygon points="198.30,172.60 199.30,174.40 197.30,174.40" fill="#0000ff"/>
<ellipse cx="202.35" cy="175.30" rx="1.85" ry="2.00" fill="#8a2be2"/>
<rect x="204.70" y="173.70" width="4.00" height="3.30" fill="#8a2be2"/>
<polygon points="211.50,173.50 213.30,177.00 209.70,177.00" fill="#8a2be2"/>
<ellipse cx="215.60" cy="172.00" rx="1.90" ry="2.00" fill="#00ffff"/>
<rect x="179.20" y="192.00" width="3.80" height="5.50" fill="#00ffff"/>
<rect x="180.90" y="256.00" width="3.30" height="21.00" fill="#008000" rx="1.5"/>
<rect x="185.00" y="256.80" width="3.70" height="4.20" fill="#008000"/>
<polygon points="190.60,256.80 192.50,276.70 188.70,276.70" fill="#008000"/>
<rect x="193.70" y="254.30" width="3.00" height="22.70" fill="#8a2be2" rx="1.5"/>
<rect x="197.50" y="254.30" width="4.10" height="22.40" fill="#8a2be2"/>
<polygon points="203.95,254.80 205.80,276.70 202.10,276.70" fill="#8a2be2"/>
<rect x="283.00" y="161.20" width="3.70" height="3.80" fill="#008000"/>
<rect x="292.50" y="168.20" width="3.70" height="39.50" fill="#8a2be2" rx="1.8"/>
<ellipse cx="284.85" cy="208.75" rx="1.85" ry="3.05" fill="#008000"/>
<polygon points="289.10,199.30 291.20,212.70 287.00,212.70" fill="#008000"/>
<rect x="320.80" y="56.20" width="3.70" height="3.60" fill="#0000ff"/>
<rect x="331.70" y="67.30" width="3.60" height="10.70" fill="#0000ff" rx="1.8"/>
<polygon points="337.90,67.70 340.00,78.40 335.80,78.40" fill="#0000ff"/>
<ellipse cx="322.80" cy="79.45" rx="2.00" ry="2.55" fill="#00bfc8"/>
<rect x="325.80" y="78.80" width="3.90" height="5.90" fill="#ff00ff"/>
<rect x="336.20" y="79.00" width="3.50" height="9.30" fill="#8a2be2" rx="1.7"/>
<ellipse cx="343.50" cy="79.65" rx="1.90" ry="2.75" fill="#a52a2a"/>
<polygon points="323.00,88.80 324.70,94.70 321.30,94.70" fill="#00bfc8"/>
<rect x="326.20" y="99.70" width="3.80" height="13.30" fill="#ff0000" rx="1.8"/>
<polygon points="333.75,100.50 335.80,113.30 331.70,113.30" fill="#a52a2a"/>
<rect x="321.20" y="106.70" width="3.50" height="6.30" fill="#00bfc8"/>
<rect x="321.20" y="122.20" width="3.50" height="9.50" fill="#00ffff"/>
<rect x="368.00" y="79.50" width="3.90" height="47.70" fill="#0000ff" rx="1.9"/>
<polygon points="374.40,80.40 376.40,102.60 372.40,102.60" fill="#0000ff"/>
<rect x="378.60" y="78.60" width="3.90" height="47.10" fill="#008000" rx="1.9"/>
<ellipse cx="447.00" cy="131.75" rx="1.70" ry="1.95" fill="#0000ff"/>
<rect x="448.70" y="124.30" width="4.60" height="8.90" fill="#0000ff"/>
<polygon points="455.60,124.50 457.50,133.20 453.70,133.20" fill="#0000ff"/>
<rect x="459.20" y="123.60" width="3.60" height="10.20" fill="#8a2be2" rx="1.8"/>
<polygon points="465.40,122.80 467.50,133.50 463.30,133.50" fill="#8a2be2"/>
<rect x="469.20" y="122.30" width="3.30" height="6.40" fill="#ff0000"/>
<rect x="540.80" y="156.00" width="3.80" height="9.70" fill="#008000" rx="1.7"/>
<rect x="545.80" y="160.50" width="3.70" height="4.20" fill="#008000"/>
<polygon points="551.85,161.00 553.70,164.70 550.00,164.70" fill="#008000"/>
<ellipse cx="590.85" cy="24.35" rx="1.85" ry="2.65" fill="#008080"/>
<polygon points="595.45,21.70 597.60,27.00 593.30,27.00" fill="#008080"/>
<rect x="589.60" y="71.30" width="3.70" height="35.40" fill="#008000"/>
</g>
<g id="legend">
<rect x="230.60" y="303.00" width="28.60" height="14.20" fill="#00bfc8"/>
<text x="261.3" y="315.3" class="l">NSP</text>
<rect x="310.40" y="303.00" width="28.60" height="14.20" fill="#a52a2a"/>
<text x="341.1" y="315.3" class="l">NGP</text>
<rect x="385.00" y="303.00" width="28.60" height="14.20" fill="#ff0000"/>
<text x="415.7" y="315.3" class="l">GWP</text>
<rect x="231.00" y="336.50" width="28.60" height="14.20" fill="#0000ff"/>
<text x="261.7" y="349.4" class="l">GL</text>
<rect x="310.40" y="336.50" width="28.60" height="14.20" fill="#008000"/>
<text x="341.1" y="349.4" class="l">GW</text>
<rect x="385.00" y="336.50" width="28.60" height="14.20" fill="#8a2be2"/>
<text x="415.7" y="349.4" class="l">TGW</text>
<rect x="231.00" y="370.00" width="28.60" height="14.20" fill="#00ffff"/>
<text x="261.7" y="382.9" class="l">SSP</text>
<rect x="310.40" y="370.00" width="28.60" height="14.20" fill="#008080"/>
<text x="341.1" y="382.9" class="l">PL</text>
<rect x="385.00" y="370.00" width="28.60" height="14.20" fill="#ff00ff"/>
<text x="415.7" y="382.9" class="l">HD</text>
<polygon points="476.2,312.5 483.4,330.8 468.8,330.8" fill="none" stroke="#555" stroke-width="0.75"/>
<rect x="462.3" y="344.8" width="29" height="14.6" fill="none" stroke="#555" stroke-width="0.75"/>
<ellipse cx="476.8" cy="375.3" rx="14.6" ry="7.7" fill="none" stroke="#555" stroke-width="0.75"/>
<text x="500.0" y="331.3" class="r" textLength="83.6" lengthAdjust="spacingAndGlyphs">2014.ZiGong</text>
<text x="497.8" y="357.8" class="r" textLength="100.6" lengthAdjust="spacingAndGlyphs">2014.WenJiang</text>
<text x="497.8" y="381.2" class="r" textLength="100.6" lengthAdjust="spacingAndGlyphs">2013.WenJiang</text>
</g>
</svg>
</body>
</html>
